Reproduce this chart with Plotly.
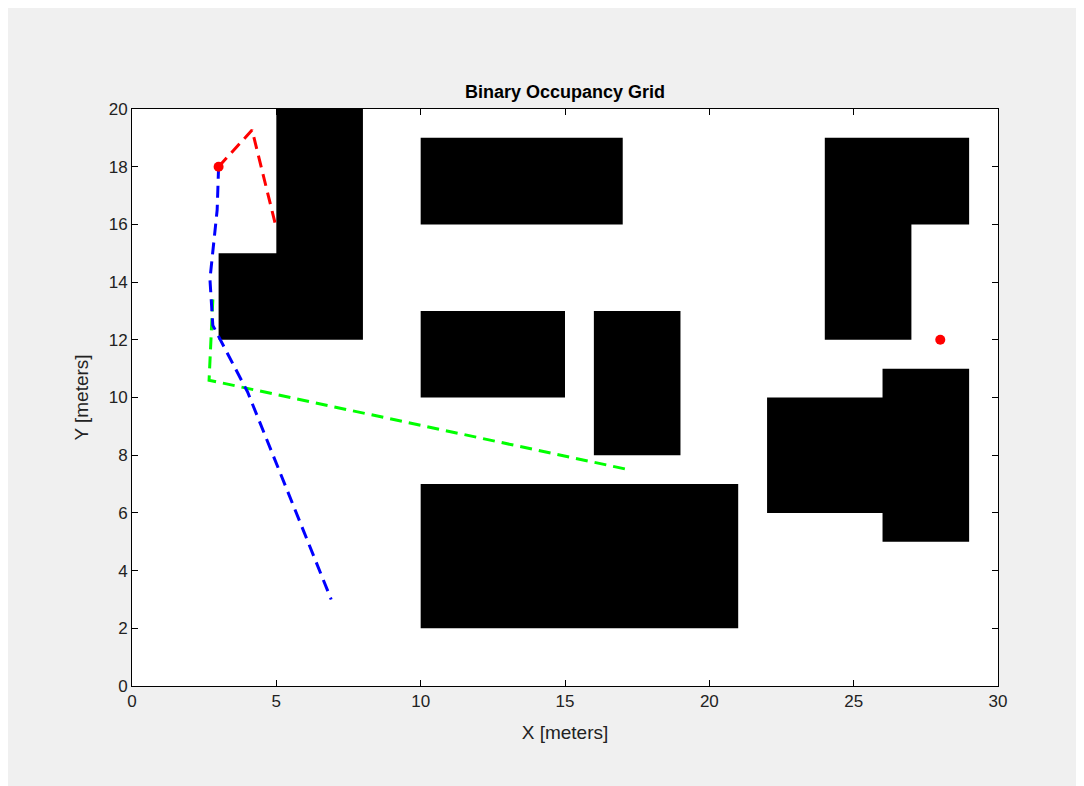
import plotly.graph_objs as go

# obstacle outlines (polygon vertices)
obstacle_x = [
    [5, 8, 8, 3, 3, 5, 5],
    [10, 17, 17, 10, 10],
    [10, 15, 15, 10, 10],
    [16, 19, 19, 16, 16],
    [10, 21, 21, 10, 10],
    [24, 29, 29, 27, 27, 24, 24],
    [22, 26, 26, 29, 29, 26, 26, 22, 22],
]
obstacle_y = [
    [20, 20, 12, 12, 15, 15, 20],
    [16, 16, 19, 19, 16],
    [10, 10, 13, 13, 10],
    [8, 8, 13, 13, 8],
    [2, 2, 7, 7, 2],
    [19, 19, 16, 16, 12, 12, 19],
    [6, 6, 5, 5, 11, 11, 10, 10, 6],
]

red_x = [3.0, 4.16, 5.0]
red_y = [18.0, 19.27, 15.87]
blue_x = [3.0, 2.95, 2.7, 2.8, 4.0, 6.9]
blue_y = [18.0, 16.5, 14.1, 12.5, 10.2, 3.0]
green_x = [2.8, 2.67, 17.2]
green_y = [13.4, 10.6, 7.5]
pts_x = [3, 28]
pts_y = [18, 12]

fig = go.Figure()

for xs, ys in zip(obstacle_x, obstacle_y):
    fig.add_trace(go.Scatter(x=xs, y=ys, fill="toself", fillcolor="black", mode="lines",
                             line=dict(color="black", width=0), showlegend=False,
                             hoverinfo="skip"))

dash = "12px,7px"
fig.add_trace(go.Scatter(x=red_x, y=red_y, mode="lines",
                         line=dict(color="red", width=3, dash=dash), showlegend=False))
fig.add_trace(go.Scatter(x=green_x, y=green_y, mode="lines",
                         line=dict(color="#00ff00", width=3, dash=dash), showlegend=False))
fig.add_trace(go.Scatter(x=blue_x, y=blue_y, mode="lines",
                         line=dict(color="blue", width=3, dash=dash), showlegend=False))
fig.add_trace(go.Scatter(x=pts_x, y=pts_y, mode="markers",
                         marker=dict(color="red", size=10), showlegend=False))

axis_style = dict(showgrid=False, zeroline=False, showline=True, mirror="ticks",
                  linecolor="black", linewidth=1, ticks="inside", ticklen=6,
                  tickcolor="black", tickfont=dict(size=17, color="#222"))

fig.update_layout(
    width=1084, height=786,
    paper_bgcolor="#f0f0f0", plot_bgcolor="white",
    margin=dict(l=124, r=94, t=101, b=108),
    font=dict(family="Liberation Sans, Arial", color="#222"),
    title=dict(text="<b>Binary Occupancy Grid</b>", x=(124 + 433) / 1084, xanchor="center",
               y=1 - 84 / 786, yanchor="middle", font=dict(size=18, color="black")),
    xaxis=dict(range=[0, 30], dtick=5, title=dict(text="X [meters]", font=dict(size=19)), **axis_style),
    yaxis=dict(range=[0, 20], dtick=2, title=dict(text="Y [meters]", font=dict(size=19)), **axis_style),
)

fig.write_html("out.html")
